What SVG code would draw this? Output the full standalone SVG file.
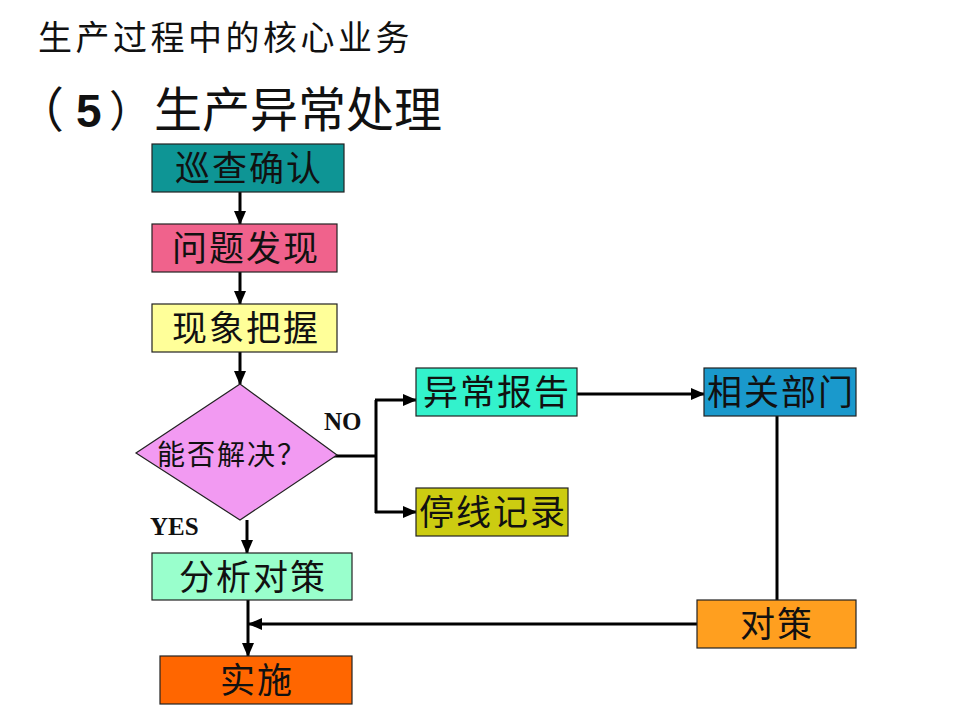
<svg xmlns="http://www.w3.org/2000/svg" width="960" height="720" viewBox="0 0 960 720">
<style>
.box{stroke:#222;stroke-width:1.2}
.t{font-family:"Noto Sans CJK SC","Noto Sans",sans-serif;font-size:35px;letter-spacing:2px;fill:#111;text-anchor:middle}
.lbl{font-family:"Liberation Serif",serif;font-weight:bold;font-size:25px;fill:#111}
.c{fill:none;stroke:#000;stroke-width:3}
.h{font-family:"Noto Sans CJK SC",sans-serif;fill:#111}
</style>
<defs>
<marker id="ah" markerUnits="userSpaceOnUse" markerWidth="14" markerHeight="12" refX="13" refY="6" orient="auto">
<path d="M0,0 L14,6 L0,12 Z" fill="#000"/>
</marker>
</defs>
<rect width="960" height="720" fill="#fff"/>
<text class="h" x="38" y="50" font-size="34" letter-spacing="3.5">生产过程中的核心业务</text>
<text class="h" x="16" y="127" font-size="48">（</text>
<text x="76" y="127" font-family="Liberation Sans,sans-serif" font-weight="bold" font-size="46" fill="#111">5</text>
<text class="h" x="109" y="127" font-size="43">）</text>
<text class="h" x="154" y="127" font-size="48">生产异常处理</text>

<g id="connectors">
<path class="c" d="M240 192 V224" marker-end="url(#ah)"/>
<path class="c" d="M240 272 V304" marker-end="url(#ah)"/>
<path class="c" d="M240 352 V384" marker-end="url(#ah)"/>
<path class="c" d="M328 456 H376 M376 400 V513"/>
<path class="c" d="M375 400 H416" marker-end="url(#ah)"/>
<path class="c" d="M375 512 H416" marker-end="url(#ah)"/>
<path class="c" d="M577 394 H704" marker-end="url(#ah)"/>
<path class="c" d="M247 520 V553" marker-end="url(#ah)"/>
<path class="c" d="M777 416 V600"/>
<path class="c" d="M697 624 H249" marker-end="url(#ah)"/>
<path class="c" d="M248 600 V656" marker-end="url(#ah)"/>
</g>

<g id="n1"><rect class="box" x="152" y="144" width="192" height="48" fill="#0E9595"/><text class="t" x="249" y="181">巡查确认</text></g>
<g id="n2"><rect class="box" x="152" y="224" width="185" height="48" fill="#F0628C"/><text class="t" x="246" y="261">问题发现</text></g>
<g id="n3"><rect class="box" x="152" y="304" width="185" height="48" fill="#FFFF99"/><text class="t" x="246" y="341">现象把握</text></g>
<g id="n4"><polygon class="box" points="240,384 337,455 240,520 136,453" fill="#F29AF2"/><text x="157" y="465" font-family="Noto Sans CJK SC,sans-serif" font-size="28" letter-spacing="2" fill="#111">能否解决？</text></g>
<g id="n5"><rect class="box" x="416" y="368" width="161" height="48" fill="#33F2CC"/><text class="t" x="497" y="405">异常报告</text></g>
<g id="n6"><rect class="box" x="416" y="488" width="152" height="48" fill="#CCCC11"/><text class="t" x="493" y="525">停线记录</text></g>
<g id="n7"><rect class="box" x="704" y="368" width="152" height="48" fill="#1A99CC"/><text class="t" x="781" y="405">相关部门</text></g>
<g id="n8"><rect class="box" x="152" y="553" width="200" height="47" fill="#99FFCC"/><text class="t" x="253" y="590">分析对策</text></g>
<g id="n9"><rect class="box" x="160" y="656" width="192" height="48" fill="#FF6600"/><text class="t" x="257" y="693">实施</text></g>
<g id="n10"><rect class="box" x="697" y="600" width="159" height="48" fill="#FF9F1F"/><text class="t" x="777" y="637">对策</text></g>

<text class="lbl" x="324" y="430">NO</text>
<text class="lbl" x="150" y="535">YES</text>
</svg>
